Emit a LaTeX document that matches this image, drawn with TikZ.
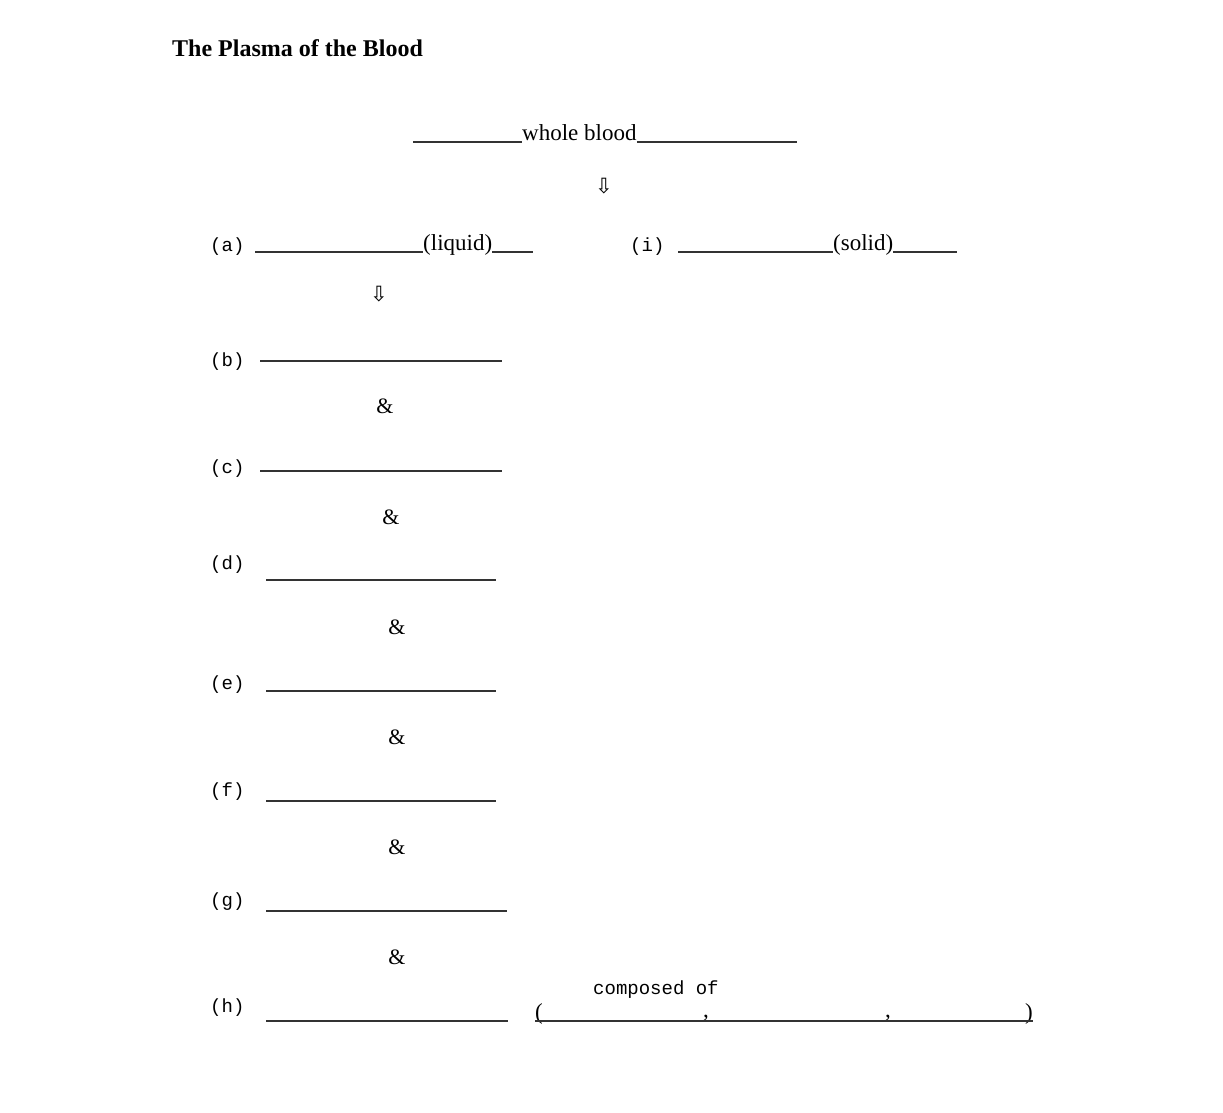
\documentclass[tikz,border=0pt]{standalone}
\usepackage{fontspec}
\setmainfont{Liberation Serif}
\setmonofont{Liberation Mono}
\newfontfamily\arrowfont{DejaVu Sans}
\usetikzlibrary{positioning}

\tikzset{
  blank/.style={draw=black!80, line width=1.3pt},
  tag/.style={font=\fontsize{19}{22}\selectfont\ttfamily, anchor=base west, inner sep=0pt},
  word/.style={font=\fontsize{23}{26}\selectfont, anchor=base west, inner sep=0pt},
  amp/.style={font=\fontsize{22}{24}\selectfont, inner sep=0pt},
  down/.style={font=\fontsize{21}{24}\selectfont\arrowfont, inner sep=0pt}
}

\begin{document}
\begin{tikzpicture}[x=1pt, y=-1pt]
        \useasboundingbox (0,0) rectangle (1223,1113);
        % Define the nodes
        \node[word, font=\fontsize{24}{26}\selectfont\bfseries] (title) at (172,57) {The Plasma of the Blood};
        \node[word] (blood) at (522,140) {whole blood};
        \node[down] (arr1) at (604,186) {⇩};
        \node[tag] (a) at (210,251) {(a)};
        \node[word] (liquid) at (423,250) {(liquid)};
        \node[tag] (i) at (630,251) {(i)};
        \node[word] (solid) at (833,250) {(solid)};
        \node[down] (arr2) at (379,294) {⇩};
        \node[tag] (b) at (210,366) {(b)};
        \node[amp] (amp1) at (385,406) {\&};
        \node[tag] (c) at (210,473) {(c)};
        \node[amp] (amp2) at (391,517) {\&};
        \node[tag] (d) at (210,569) {(d)};
        \node[amp] (amp3) at (397,627) {\&};
        \node[tag] (e) at (210,689) {(e)};
        \node[amp] (amp4) at (397,737) {\&};
        \node[tag] (f) at (210,796) {(f)};
        \node[amp] (amp5) at (397,847) {\&};
        \node[tag] (g) at (210,906) {(g)};
        \node[amp] (amp6) at (397,957) {\&};
        \node[tag] (h) at (210,1012) {(h)};
        \node[tag] (comp) at (593,994) {composed of};
        \node[word] (open) at (535,1019) {(};
        \node[word] (close) at (1025,1019) {)};
        \node[word] (comma1) at (703,1017) {,};
        \node[word] (comma2) at (885,1017) {,};
        % Define the blanks
        \draw[blank] (413,142) -- ([yshift=-2pt]blood.base west);
        \draw[blank] ([yshift=-2pt]blood.base east) -- (797,142);
        \draw[blank] (255,252) -- ([yshift=-2pt]liquid.base west);
        \draw[blank] ([yshift=-2pt]liquid.base east) -- (533,252);
        \draw[blank] (678,252) -- ([yshift=-2pt]solid.base west);
        \draw[blank] ([yshift=-2pt]solid.base east) -- (957,252);
        \draw[blank] (260,361) -- (502,361);
        \draw[blank] (260,471) -- (502,471);
        \draw[blank] (266,580) -- (496,580);
        \draw[blank] (266,691) -- (496,691);
        \draw[blank] (266,801) -- (496,801);
        \draw[blank] (266,911) -- (507,911);
        \draw[blank] (266,1021) -- (508,1021);
        \draw[blank] ([yshift=-2pt]open.base west) -- ([yshift=-2pt]close.base east);
    \end{tikzpicture}
\end{document}
